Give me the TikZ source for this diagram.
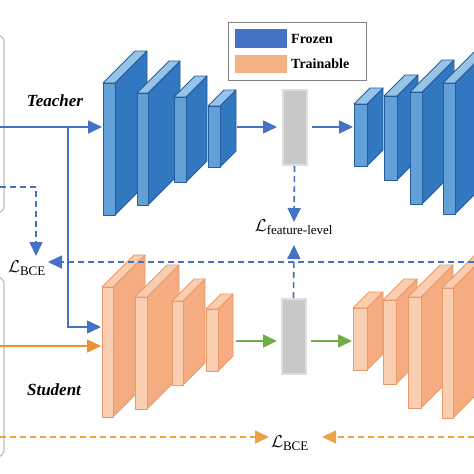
\documentclass[tikz,border=0pt]{standalone}
\usepackage{fontspec}
\setmainfont{Liberation Serif}
\usetikzlibrary{arrows.meta}
\definecolor{Bfront}{RGB}{98,160,216}
\definecolor{Bside}{RGB}{50,120,192}
\definecolor{Btop}{RGB}{150,196,232}
\definecolor{Bedge}{RGB}{38,92,156}
\definecolor{Ofront}{RGB}{250,206,176}
\definecolor{Oside}{RGB}{244,172,128}
\definecolor{Otop}{RGB}{249,206,176}
\definecolor{Oedge}{RGB}{236,152,104}
\definecolor{lineblue}{RGB}{68,114,196}
\definecolor{lineorange}{RGB}{238,146,48}
\definecolor{dashorange}{RGB}{236,162,72}
\definecolor{linegreen}{RGB}{112,173,71}
\definecolor{legblue}{RGB}{68,114,196}
\definecolor{legorange}{RGB}{244,177,131}
\definecolor{neck}{RGB}{200,200,200}
\definecolor{panel}{RGB}{190,190,190}
\newcommand\cube[6]{%
 \filldraw[fill=#6side,draw=#6edge,line width=0.8pt,line join=round] ({#1+#4},#2) -- ({#1+#4+#5},{#2-#5}) -- ({#1+#4+#5},{#3-#5}) -- ({#1+#4},#3) -- cycle;
 \filldraw[fill=#6top,draw=#6edge,line width=0.8pt,line join=round] (#1,#2) -- ({#1+#4},#2) -- ({#1+#4+#5},{#2-#5}) -- ({#1+#5},{#2-#5}) -- cycle;
 \filldraw[fill=#6front,draw=#6edge,line width=0.8pt,line join=round] (#1,#2) rectangle ({#1+#4},#3);
}
\tikzset{
 arr/.style={-{Triangle[length=14pt,width=13pt]},line width=1.6pt},
 solidblue/.style={arr,draw=lineblue},
 solidorange/.style={arr,draw=lineorange},
 solidgreen/.style={arr,draw=linegreen},
 dashblue/.style={arr,draw=lineblue,dash pattern=on 6pt off 4pt},
 dashor/.style={arr,draw=dashorange,dash pattern=on 6pt off 4pt},
 role/.style={font=\fontsize{17}{17}\selectfont\bfseries\itshape,inner sep=0pt},
 legtext/.style={font=\fontsize{14}{14}\selectfont\bfseries,inner sep=0pt,anchor=west},
 loss/.style={font=\fontsize{18}{18}\selectfont,inner sep=0pt},
 necknode/.style={fill=neck,draw=neck!60!white,line width=2pt,minimum width=24pt,inner sep=0pt},
}
\newcommand\subtxt[1]{\mbox{\fontsize{13}{13}\selectfont #1}}
\begin{document}
\begin{tikzpicture}[x=1pt,y=-1pt]
\clip (0,0) rectangle (474,474);
\fill[white] (0,0) rectangle (474,474);
% left panels
\draw[panel,line width=1.2pt,rounded corners=7pt] (-60,35) rectangle (4,213);
\draw[panel,line width=1.2pt,rounded corners=7pt] (-60,277) rectangle (4,457);
% legend
\draw[gray,line width=0.8pt] (228,22) rectangle (366,80);
\fill[legblue] (235,29) rectangle (287,48);
\fill[legorange] (235,55) rectangle (287,73);
\node[legtext] (frozen) at (291,38.5) {Frozen};
\node[legtext] (trainable) at (291,64) {Trainable};
% teacher encoder
\cube{103}{83}{215}{12}{32}{B}
\cube{137}{93}{205}{11}{32}{B}
\cube{174}{97}{182}{12}{21}{B}
\cube{208}{106}{167}{12}{16}{B}
% teacher decoder
\cube{354}{104}{166}{13}{16}{B}
\cube{384}{96}{180}{13}{21}{B}
\cube{410}{92}{204}{12}{32}{B}
\cube{443}{83}{214}{12}{31}{B}
% student encoder
\cube{102}{287}{417}{11}{32}{O}
\cube{135}{297}{409}{12}{32}{O}
\cube{172}{301}{385}{11}{22}{O}
\cube{206}{309}{371}{12}{15}{O}
% student decoder
\cube{353}{308}{370}{14}{16}{O}
\cube{383}{300}{384}{13}{21}{O}
\cube{408}{297}{408}{13}{32}{O}
\cube{442}{288}{418}{11}{32}{O}
% bottlenecks
\node[necknode,minimum height=75pt] (tneck) at (294.5,127.5) {};
\node[necknode,minimum height=75pt] (sneck) at (293.5,336.5) {};
% labels
\node[role] (teacher) at (55,101) {Teacher};
\node[role] (student) at (54,390) {Student};
\node[loss] (lfeat) at (294,227) {$\mathcal{L}_{\subtxt{feature-level}}$};
\node[loss] (lbceL) at (27,268) {$\mathcal{L}_{\subtxt{BCE}}$};
\node[loss] (lbceB) at (290,443) {$\mathcal{L}_{\subtxt{BCE}}$};
% coordinates
\coordinate (tin) at (0,127);
\coordinate (tenc) at (102,127);
\coordinate (tsplit) at (68,127);
\coordinate (tsdown) at (68,327);
\coordinate (senc1) at (101,327);
\coordinate (sin) at (0,346);
\coordinate (senc2) at (101,346);
\coordinate (tencout) at (237,127);
\coordinate (tneckin) at (277,127);
\coordinate (tneckout) at (312,127);
\coordinate (tdecin) at (353,127);
\coordinate (sencout) at (236,341);
\coordinate (sneckin) at (277,341);
\coordinate (sneckout) at (311,341);
\coordinate (sdecin) at (352,341);
\coordinate (dlstart) at (0,187);
\coordinate (dlcorner) at (36,187);
\coordinate (dlend) at (36,256);
\coordinate (drstart) at (474,262);
\coordinate (drend) at (48,262);
\coordinate (obl) at (0,437);
\coordinate (oblend) at (269,437);
\coordinate (obr) at (474,437);
\coordinate (obrend) at (322,437);
\coordinate (featdown) at (294,222);
\coordinate (featup) at (294,245);
% connectors
\draw[solidblue] (tin) -- (tenc);
\draw[solidblue] (tsplit) -- (tsdown) -- (senc1);
\draw[solidorange] (sin) -- (senc2);
\draw[solidblue] (tencout) -- (tneckin);
\draw[solidblue] (tneckout) -- (tdecin);
\draw[solidgreen] (sencout) -- (sneckin);
\draw[solidgreen] (sneckout) -- (sdecin);
\draw[dashblue] (dlstart) -- (dlcorner) -- (dlend);
\draw[dashblue] (drstart) -- (drend);
\draw[dashblue] (tneck.south) -- (featdown);
\draw[dashblue] (sneck.north) -- (featup);
\draw[dashor] (obl) -- (oblend);
\draw[dashor] (obr) -- (obrend);
\end{tikzpicture}
\end{document}
